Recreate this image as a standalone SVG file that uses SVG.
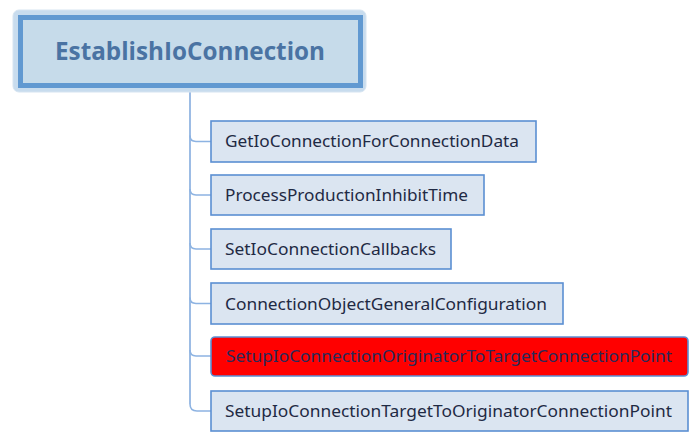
<svg xmlns="http://www.w3.org/2000/svg" width="698" height="444" viewBox="0 0 698 444">
<style>
.n{fill:#dbe5f1;stroke:#5b8fd3;stroke-width:1.6}
.t{font-family:"Noto Sans","Open Sans","Liberation Sans",sans-serif;font-size:16px;fill:#1f2a44}
.c{fill:none;stroke:#5b8fd3;stroke-width:1.2}
.b{fill:none;stroke:#8db3e2;stroke-width:1.6}
</style>
<rect width="698" height="444" fill="#ffffff"/>
<g id="connectors">
<path class="c" d="M190 88 V404"/>
<path class="b" d="M190 135.5 Q190 141.5 196 141.5 H211"/>
<path class="b" d="M190 189 Q190 195 196 195 H211"/>
<path class="b" d="M190 243 Q190 249 196 249 H211"/>
<path class="b" d="M190 297.5 Q190 303.5 196 303.5 H211"/>
<path class="b" d="M190 350 Q190 356 196 356 H211"/>
<path class="b" d="M190 404 Q190 411 197 411 H211"/>
</g>
<g id="root">
<rect x="13" y="10" width="353" height="82" rx="6" fill="#c8dcee" stroke="#d6e4f1" stroke-width="1"/>
<rect x="20.5" y="17.5" width="340" height="68" fill="#c6dbea" stroke="#6199d1" stroke-width="5"/>
<text x="190" y="60" text-anchor="middle" font-family="'Open Sans','Liberation Sans',sans-serif" font-weight="bold" font-size="25" fill="#4a73a3" textLength="270" lengthAdjust="spacingAndGlyphs">EstablishIoConnection</text>
</g>
<g id="n1">
<rect class="n" x="211" y="121" width="325" height="41"/>
<text class="t" x="225" y="147" textLength="294" lengthAdjust="spacingAndGlyphs">GetIoConnectionForConnectionData</text>
</g>
<g id="n2">
<rect class="n" x="211" y="175" width="273" height="40"/>
<text class="t" x="225" y="201" textLength="243" lengthAdjust="spacingAndGlyphs">ProcessProductionInhibitTime</text>
</g>
<g id="n3">
<rect class="n" x="211" y="229" width="240" height="40"/>
<text class="t" x="225" y="255" textLength="211" lengthAdjust="spacingAndGlyphs">SetIoConnectionCallbacks</text>
</g>
<g id="n4">
<rect class="n" x="211" y="283" width="352" height="41"/>
<text class="t" x="225" y="309.5" textLength="322" lengthAdjust="spacingAndGlyphs">ConnectionObjectGeneralConfiguration</text>
</g>
<g id="n5">
<rect x="211" y="337" width="477" height="39" rx="4" fill="#ff0000" stroke="#5b8fd3" stroke-width="1.6"/>
<text class="t" x="226" y="362" textLength="446" lengthAdjust="spacingAndGlyphs" style="fill:#2a2a5a">SetupIoConnectionOriginatorToTargetConnectionPoint</text>
</g>
<g id="n6">
<rect class="n" x="211" y="391" width="477" height="40"/>
<text class="t" x="225" y="417" textLength="447" lengthAdjust="spacingAndGlyphs">SetupIoConnectionTargetToOriginatorConnectionPoint</text>
</g>
</svg>
